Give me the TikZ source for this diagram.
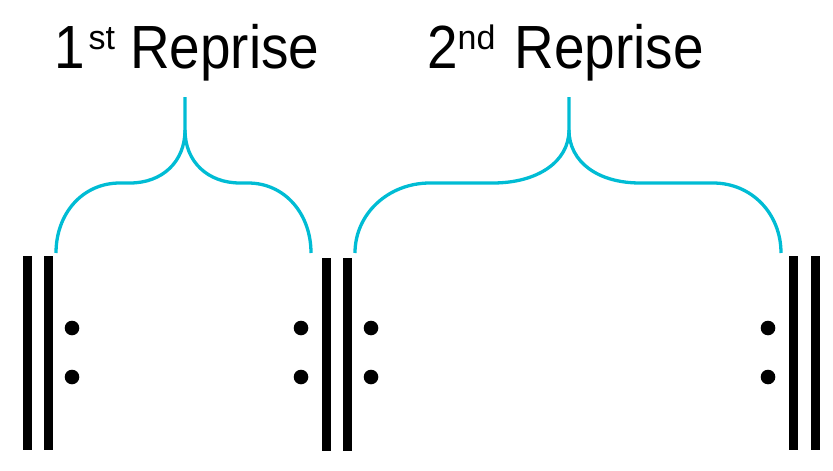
\documentclass[tikz,border=0pt]{standalone}
\usepackage{fontspec}
\setmainfont{Liberation Sans}
\definecolor{bracecyan}{HTML}{00BCD4}
\tikzset{
  bar/.style={fill=black},
  dot/.style={fill=black},
  bracepath/.style={draw=bracecyan, line width=3.3pt},
  title/.style={anchor=base west, inner sep=0pt, font=\fontsize{61}{70}\selectfont}
}
\newcommand{\supr}[1]{\raisebox{19pt}{\fontsize{34}{36}\selectfont #1}}
\newcommand{\narrow}[1]{\scalebox{0.9}[1]{#1}}
\begin{document}
\begin{tikzpicture}[x=1pt,y=-1pt]
\useasboundingbox (0,0) rectangle (833,471);
% titles
\node[title] (t1) at (54,68) {\narrow{1}\hspace{4pt}\supr{st}\hspace{15pt}\narrow{Reprise}};
\node[title] (t2) at (427,68) {\narrow{2}\hspace{0pt}\supr{nd}\hspace{19pt}\narrow{Reprise}};
% braces
\draw[bracepath] (56,253) .. controls (56,214) and (82,183) .. (120,183)
  -- (130,183) .. controls (162,183) and (185,162) .. (185,130) -- (185,97);
\draw[bracepath] (185,130) .. controls (185,162) and (208,183) .. (240,183)
  -- (248,183) .. controls (285,183) and (311,214) .. (311,253);
\draw[bracepath] (355,253) .. controls (355,214) and (388,183) .. (430,183)
  -- (493,183) .. controls (537,183) and (569,162) .. (569,130) -- (569,97);
\draw[bracepath] (569,130) .. controls (569,162) and (598,183) .. (640,183)
  -- (713,183) .. controls (752,183) and (781,214) .. (781,253);
% bars
\fill[bar] (23,256) rectangle (32,450);
\fill[bar] (44,256) rectangle (53,450);
\fill[bar] (322,258) rectangle (331,451);
\fill[bar] (343,258) rectangle (352,451);
\fill[bar] (789,256) rectangle (798,450);
\fill[bar] (811,256) rectangle (820,450);
% dots
\foreach \x in {72,301,371,768}{
  \fill[dot] (\x,328) circle (7.3);
  \fill[dot] (\x,377) circle (7.3);
}
\end{tikzpicture}
\end{document}
